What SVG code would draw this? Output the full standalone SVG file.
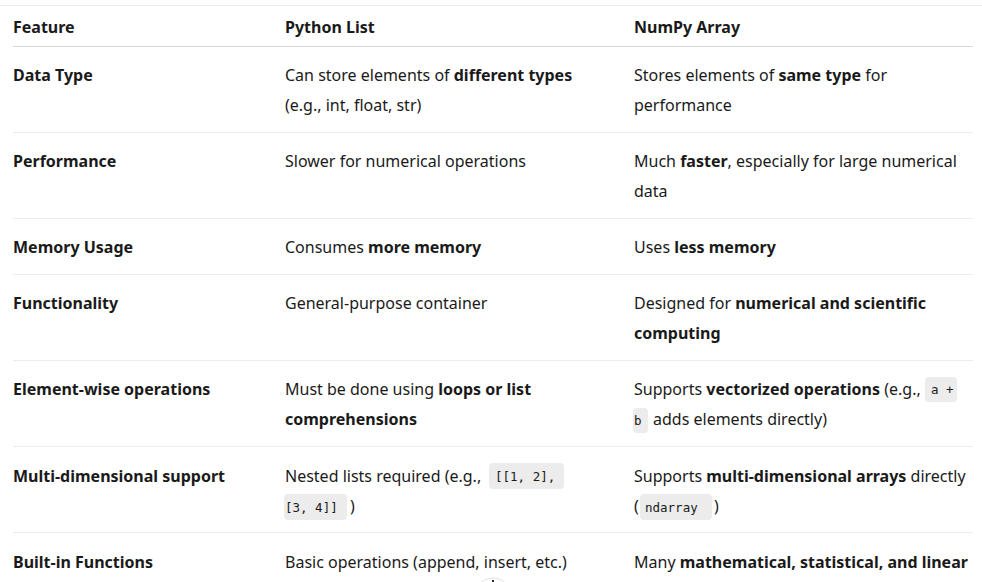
<svg xmlns="http://www.w3.org/2000/svg" width="982" height="582" viewBox="0 0 982 582">
<style>
text{font-family:"Noto Sans","Open Sans",sans-serif;font-size:16px;fill:#1a1a1a}
.b{font-weight:bold}
.c{font-family:"DejaVu Sans Mono","Liberation Mono",monospace;font-size:12.5px}
.cb{fill:#ececec}
.hl{stroke:#d6d6d6;stroke-width:1}
.rl{stroke:#ececec;stroke-width:1}
</style>
<rect width="982" height="582" fill="#fff"/>
<g id="grid">
<line class="rl" x1="0" y1="5.5" x2="982" y2="5.5"/>
<line class="hl" x1="13" y1="46.5" x2="973" y2="46.5"/>
<line class="rl" x1="13" y1="132.5" x2="973" y2="132.5"/>
<line class="rl" x1="13" y1="218.5" x2="973" y2="218.5"/>
<line class="rl" x1="13" y1="274.5" x2="973" y2="274.5"/>
<line class="rl" x1="13" y1="360.5" x2="973" y2="360.5"/>
<line class="rl" x1="13" y1="446.5" x2="973" y2="446.5"/>
<line class="rl" x1="13" y1="532.5" x2="973" y2="532.5"/>
</g>
<g id="header">
<text class="b" x="13" y="33">Feature</text>
<text class="b" x="285" y="33">Python List</text>
<text class="b" x="634" y="33">NumPy Array</text>
</g>
<g id="row1">
<text class="b" x="13" y="81">Data Type</text>
<text x="285" y="81">Can store elements of <tspan class="b">different types</tspan></text>
<text x="285" y="111">(e.g., int, float, str)</text>
<text x="634" y="81">Stores elements of <tspan class="b">same type</tspan> for</text>
<text x="634" y="111">performance</text>
</g>
<g id="row2">
<text class="b" x="13" y="167">Performance</text>
<text x="285" y="167">Slower for numerical operations</text>
<text x="634" y="167">Much <tspan class="b">faster</tspan>, especially for large numerical</text>
<text x="634" y="197">data</text>
</g>
<g id="row3">
<text class="b" x="13" y="253">Memory Usage</text>
<text x="285" y="253">Consumes <tspan class="b">more memory</tspan></text>
<text x="634" y="253">Uses <tspan class="b">less memory</tspan></text>
</g>
<g id="row4">
<text class="b" x="13" y="309">Functionality</text>
<text x="285" y="309">General-purpose container</text>
<text x="634" y="309">Designed for <tspan class="b">numerical and scientific</tspan></text>
<text class="b" x="634" y="339">computing</text>
</g>
<g id="row5">
<text class="b" x="13" y="395">Element-wise operations</text>
<text x="285" y="395">Must be done using <tspan class="b">loops or list</tspan></text>
<text class="b" x="285" y="425">comprehensions</text>
<text x="634" y="395">Supports <tspan class="b">vectorized operations</tspan> (e.g.,</text>
<rect class="cb" x="925" y="377" width="32" height="25" rx="4"/>
<text class="c" x="931" y="394">a +</text>
<rect class="cb" x="633" y="408" width="15" height="25" rx="4"/>
<text class="c" x="634" y="425">b</text>
<text x="653" y="425">adds elements directly)</text>
</g>
<g id="row6">
<text class="b" x="13" y="482">Multi-dimensional support</text>
<text x="285" y="482">Nested lists required (e.g.,</text>
<rect class="cb" x="489" y="463" width="75" height="26" rx="4"/>
<text class="c" x="495" y="481">[[1, 2],</text>
<rect class="cb" x="284" y="494" width="63" height="26" rx="4"/>
<text class="c" x="285" y="512">[3, 4]]</text>
<text x="350" y="512">)</text>
<text x="634" y="482">Supports <tspan class="b">multi-dimensional arrays</tspan> directly</text>
<text x="634" y="512">(</text>
<rect class="cb" x="640" y="494" width="72" height="26" rx="4"/>
<text class="c" x="645" y="512">ndarray</text>
<text x="714" y="512">)</text>
</g>
<g id="row7">
<text class="b" x="13" y="568">Built-in Functions</text>
<text x="285" y="568">Basic operations (append, insert, etc.)</text>
<text x="634" y="568">Many <tspan class="b">mathematical, statistical, and linear</tspan></text>
</g>
<g id="scroll">
<circle cx="493" cy="596" r="18" fill="#fff" stroke="#e0e0e0"/>
<rect x="492" y="580" width="2" height="2" fill="#333"/>
</g>
</svg>
